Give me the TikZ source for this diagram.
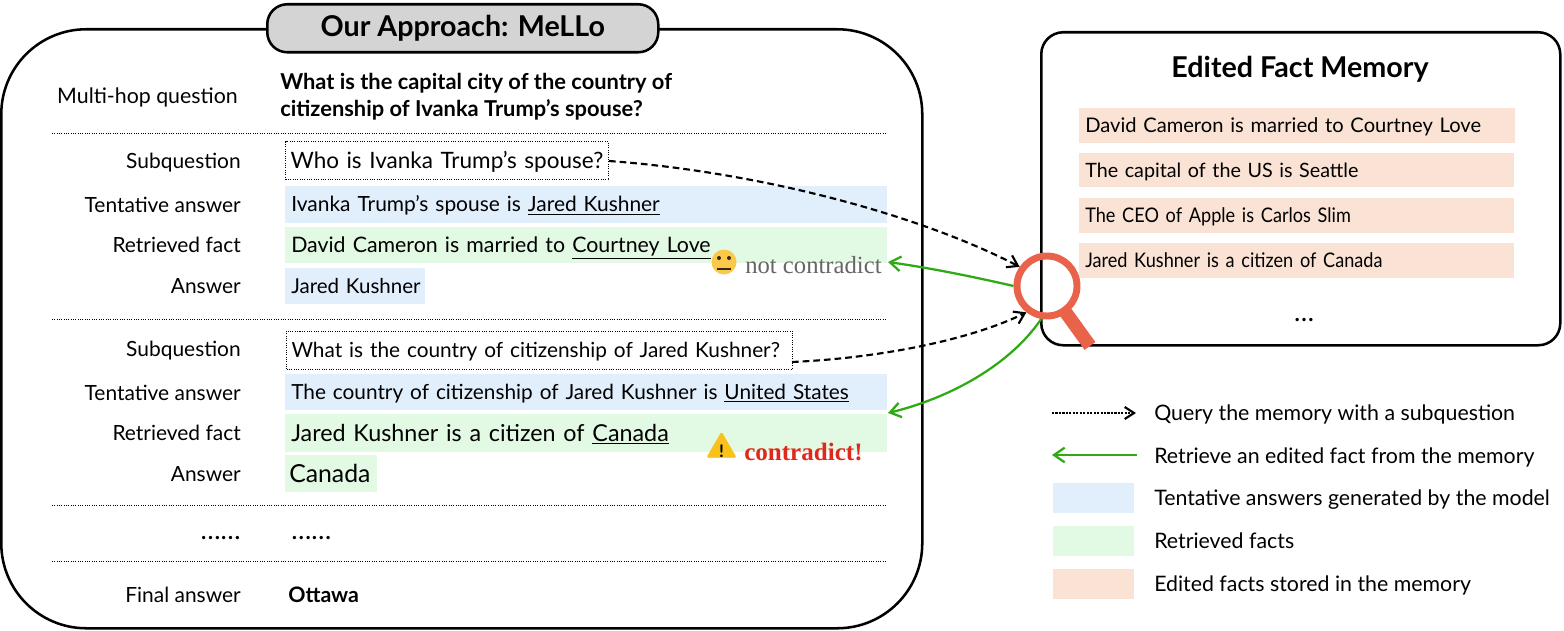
\documentclass[tikz,border=0pt]{standalone}
\usepackage{fontspec}
\setmainfont{Lato}
\newfontfamily\serifx{Liberation Serif}
\newfontfamily\latonarrow[FakeStretch=0.9]{Lato}
\usetikzlibrary{arrows.meta,shapes.geometric,calc}
\definecolor{bl}{HTML}{E1EEFC}
\definecolor{gr}{HTML}{E2F9E3}
\definecolor{or}{HTML}{FAE3D5}
\definecolor{magc}{HTML}{E8634A}
\definecolor{arrg}{HTML}{2FAA14}
\definecolor{redc}{HTML}{E0291A}
\definecolor{warnc}{HTML}{F9C11A}
\definecolor{facec}{HTML}{FBC94A}
\tikzset{
 panel/.style n args={3}{draw=black,line width=1.9pt,rounded corners=#3*.75pt,minimum width=#1*.75pt,minimum height=#2*.75pt,inner sep=0pt,anchor=north west},
 barbox/.style n args={3}{fill=#1,minimum width=#2*.75pt,minimum height=#3*.75pt,text width=(#2-12)*.75pt,inner xsep=4.5pt,inner ysep=0pt,anchor=west,align=left,text height=11pt,text depth=0pt},
 rowlab/.style={anchor=east,inner sep=0pt,font=\fontsize{15.7}{18}\selectfont,text height=11pt,text depth=0pt},
 sep/.style={densely dotted,line width=.75pt},
 dbox/.style n args={2}{draw,densely dotted,line width=.75pt,minimum width=#1*.75pt,minimum height=#2*.75pt,text width=(#1-10)*.75pt,inner xsep=3.75pt,inner ysep=0pt,anchor=west,align=left,text height=11pt,text depth=0pt},
 qarrow/.style={-{Straight Barb[length=7.5pt,width=10pt]},line width=1.6pt,dash pattern=on 5pt off 3pt},
 rarrow/.style={-{Straight Barb[length=8pt,width=11pt]},line width=1.7pt,arrg},
 legtext/.style={anchor=west,inner sep=0pt,font=\fontsize{16}{18}\selectfont,text height=11pt,text depth=0pt},
 legsw/.style={minimum width=60.75pt,minimum height=22.5pt,inner sep=0pt,anchor=west},
}
\begin{document}
\begin{tikzpicture}[x=.75pt,y=-.75pt,font=\fontsize{15.7}{18}\selectfont]
\useasboundingbox (0,0) rectangle (1564,631);
\fill[white] (0,0) rectangle (1564,631);
% panels
\node[panel={921}{599}{85}] (main) at (0,28) {};
\node[panel={519}{313}{22},fill=white] (mem) at (1040,31) {};
\node[panel={391}{48}{20},fill=black!17] (title) at (266,3) {\fontsize{21.5}{24}\selectfont\bfseries Our Approach: MeLLo};
\node[font=\fontsize{21.5}{26}\selectfont\bfseries,inner sep=0pt] (memt) at (1300,69) {Edited Fact Memory};
% separators
\coordinate (s1a) at (52,134); \coordinate (s1b) at (887,134);
\coordinate (s2a) at (52,319); \coordinate (s2b) at (887,319);
\coordinate (s3a) at (52,505); \coordinate (s3b) at (887,505);
\coordinate (s4a) at (52,561); \coordinate (s4b) at (887,561);
\draw[sep] (s1a)--(s1b); \draw[sep] (s2a)--(s2b); \draw[sep] (s3a)--(s3b); \draw[sep] (s4a)--(s4b);
% row labels
\node[rowlab,font=\fontsize{16}{18}\selectfont] (l0) at (238,96) {Multi-hop question};
\node[rowlab] (l1) at (241,161) {Subquestion};
\node[rowlab] (l2) at (241,205) {Tentative answer};
\node[rowlab] (l3) at (241,245) {Retrieved fact};
\node[rowlab] (l4) at (241,286) {Answer};
\node[rowlab] (l5) at (241,349) {Subquestion};
\node[rowlab] (l6) at (241,393) {Tentative answer};
\node[rowlab] (l7) at (241,433) {Retrieved fact};
\node[rowlab] (l8) at (241,474) {Answer};
\node[rowlab,font=\fontsize{20}{18}\selectfont] (l9) at (241,532) {……};
\node[rowlab] (l10) at (241,595) {Final answer};
% contents
\node[anchor=west,inner sep=0pt,align=left,font=\fontsize{16.4}{20.25}\selectfont\bfseries] (q) at (280,97) {What is the capital city of the country of\\citizenship of Ivanka Trump’s spouse?};
\node[dbox={323}{38},font=\fontsize{16.9}{20}\selectfont] (sq1) at (285,161) {\mbox{Who is Ivanka Trump’s spouse?}};
\node[barbox={bl}{602}{37}] (t1) at (285,204.5) {Ivanka Trump’s spouse is \underline{Jared Kushner}};
\node[barbox={gr}{602}{36},font=\fontsize{16}{18}\selectfont] (f1) at (285,245) {David Cameron is married to \underline{Courtney Love}};
\node[barbox={bl}{140}{36},font=\fontsize{15.4}{18}\selectfont] (a1) at (285,286) {\mbox{Jared Kushner}};
\node[dbox={506}{38},font=\fontsize{15.6}{18}\selectfont] (sq2) at (286,350) {\mbox{What is the country of citizenship of Jared Kushner?}};
\node[barbox={bl}{602}{36},font=\fontsize{15.6}{18}\selectfont] (t2) at (285,392) {The country of citizenship of Jared Kushner is \underline{United States}};
\node[barbox={gr}{602}{38},font=\fontsize{17.5}{20}\selectfont,text height=12pt] (f2) at (285,433) {Jared Kushner is a citizen of \underline{Canada}};
\node[barbox={gr}{91}{37},font=\fontsize{18.6}{20}\selectfont,inner xsep=3pt,text width=63pt,text height=13pt] (a2) at (285,473.5) {Canada};
\node[anchor=west,inner sep=0pt,font=\fontsize{20}{18}\selectfont,text height=11pt,text depth=0pt] (dots) at (291,532) {……};
\node[anchor=west,inner sep=0pt,font=\fontsize{16}{18}\selectfont\bfseries,text height=11pt,text depth=0pt] (final) at (288,595) {Ottawa};
% annotations
\node[circle,minimum size=18.75pt,inner sep=0pt,fill=facec] (face) at (724,262) {};
\fill[black!70!brown] (719,258) circle (1.5pt) (729,258) circle (1.5pt);
\draw[black!70!brown,line width=.9pt] (717,269)--(731,269);
\node[anchor=west,inner sep=0pt,text=black!60,font=\serifx\fontsize{18.5}{20}\selectfont] (nc) at (745,265) {not contradict};
\node[isosceles triangle,isosceles triangle apex angle=60,shape border rotate=90,minimum height=19pt,inner sep=0pt,fill=warnc,draw=warnc,rounded corners=1pt] (warn) at (721.5,449) {};
\node[inner sep=0pt,font=\fontsize{13}{13}\selectfont\bfseries] (warnx) at (721.5,451) {!};
\node[anchor=west,inner sep=0pt,text=redc,font=\serifx\fontsize{18.8}{20}\selectfont\bfseries] (ct) at (744,452) {contradict!};
% memory
\node[barbox={or}{436}{35},font=\fontsize{15.1}{18}\selectfont] (m1) at (1079,125.5) {David Cameron is married to Courtney Love};
\node[barbox={or}{435}{34},font=\fontsize{14.8}{18}\selectfont] (m2) at (1079,170) {The capital of the US is Seattle};
\node[barbox={or}{435}{35},font=\latonarrow\fontsize{15.1}{18}\selectfont] (m3) at (1079,215.5) {The CEO of Apple is Carlos Slim};
\node[barbox={or}{435}{35},font=\latonarrow\fontsize{15.1}{18}\selectfont] (m4) at (1079,260.5) {Jared Kushner is a citizen of Canada};
\node[inner sep=0pt,font=\fontsize{20}{18}\selectfont,text height=11pt,text depth=0pt] (mdots) at (1304,314) {…};
% magnifier
\node[circle,draw=magc,line width=5.2pt,minimum size=45pt,inner sep=0pt] (mag) at (1047,286) {};
\coordinate (hs) at (1064,310); \coordinate (he) at (1090,346);
\draw[magc,line width=10pt] (hs)--(he);
% connector ends
\coordinate (nce) at (888,262);
\coordinate (t2e) at (888,413);
\coordinate (sq2s) at (792,362);
% connectors
\draw[qarrow] (sq1.east) .. controls (760,172) and (920,215) .. (mag.145);
\draw[qarrow] (sq2s) .. controls (880,358) and (970,340) .. (mag.-128);
\draw[rarrow] (mag.180) .. controls (970,276) and (930,268) .. (nce);
\draw[rarrow] (mag.-100) .. controls (1010,365) and (950,398) .. (t2e);
% legend
\coordinate (la) at (1052,413); \coordinate (lb) at (1136,413);
\coordinate (lc) at (1137,455); \coordinate (ld) at (1052,455);
\draw[-{Straight Barb[length=7pt,width=9pt]},line width=1.6pt,densely dotted] (la)--(lb);
\draw[rarrow] (lc)--(ld);
\node[legtext] (lt1) at (1154,413) {Query the memory with a subquestion};
\node[legtext] (lt2) at (1154,456) {Retrieve an edited fact from the memory};
\node[legsw,fill=bl] (sw1) at (1053,498) {};
\node[legsw,fill=gr] (sw2) at (1053,541) {};
\node[legsw,fill=or] (sw3) at (1053,584) {};
\node[legtext] (lt3) at (1154,498) {Tentative answers generated by the model};
\node[legtext] (lt4) at (1154,541) {Retrieved facts};
\node[legtext] (lt5) at (1154,584) {Edited facts stored in the memory};
\end{tikzpicture}
\end{document}
